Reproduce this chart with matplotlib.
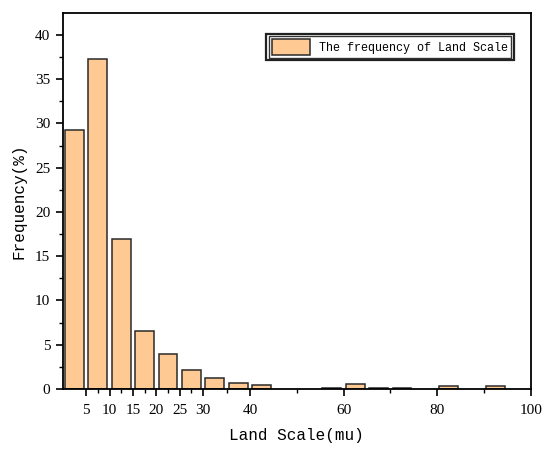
import matplotlib
matplotlib.use("Agg")
import matplotlib.pyplot as plt
from matplotlib.patches import Rectangle

# bin centres (mu) and frequency (%)
bin_centres = [2.5, 7.5, 12.5, 17.5, 22.5, 27.5, 32.5, 37.5, 42.5,
               57.5, 62.5, 67.5, 72.5, 82.5, 92.5]
frequency = [29.3, 37.3, 16.9, 6.6, 3.95, 2.1, 1.28, 0.64, 0.49,
             0.14, 0.53, 0.14, 0.14, 0.34, 0.34]
x_major = [5, 10, 15, 20, 25, 30, 40, 60, 80, 100]
x_minor = [7.5, 12.5, 17.5, 22.5, 27.5, 35, 50, 70, 90]
legend_label = "The frequency of Land Scale"

fig = plt.figure(figsize=(5.5, 4.5), dpi=100)
ax = fig.add_axes([0.114, 0.1356, 0.851, 0.836])

ax.bar(bin_centres, frequency, width=4, color="#FFC993",
       edgecolor="#2a2a2a", linewidth=1.1, label=legend_label, zorder=2)

ax.set_xlim(0, 100)
ax.set_ylim(0, 42.5)
ax.set_xticks(x_major)
ax.set_xticks(x_minor, minor=True)
ax.set_yticks(range(0, 41, 5))
ax.set_yticks([v + 2.5 for v in range(0, 40, 5)], minor=True)

ax.tick_params(axis="both", which="major", direction="out", length=5,
               width=1.2, labelsize=11, top=False, right=False)
ax.tick_params(axis="both", which="minor", direction="out", length=3,
               width=1.0, top=False, right=False)
ax.tick_params(axis="x", which="major", pad=6)
ax.tick_params(axis="y", which="major", pad=4)
for lab in ax.get_xticklabels() + ax.get_yticklabels():
    lab.set_fontfamily("Liberation Serif")
for sp in ax.spines.values():
    sp.set_linewidth(1.3)

ax.set_xlabel("Land Scale(mu)", fontsize=11.5, family="Liberation Mono", labelpad=8)
ax.set_ylabel("Frequency(%)", fontsize=11.5, family="Liberation Mono", labelpad=6)

leg = ax.legend(loc="upper right", bbox_to_anchor=(0.958, 0.938),
                prop={"family": "Liberation Mono", "size": 8.5},
                fancybox=False, framealpha=1, edgecolor="#333333",
                handlelength=3.2, handleheight=1.65, borderpad=0.25,
                handletextpad=0.8, borderaxespad=0)
leg.get_frame().set_linewidth(1.0)

# origin-style double frame around the legend
fig.canvas.draw()
bb = leg.get_window_extent()
fig.patches.append(Rectangle((bb.x0 - 2.5, bb.y0 - 2.5), bb.width + 5, bb.height + 5,
                             transform=None, fill=False, edgecolor="#222222",
                             linewidth=1.6, figure=fig))

fig.savefig("out.png", dpi=100)
